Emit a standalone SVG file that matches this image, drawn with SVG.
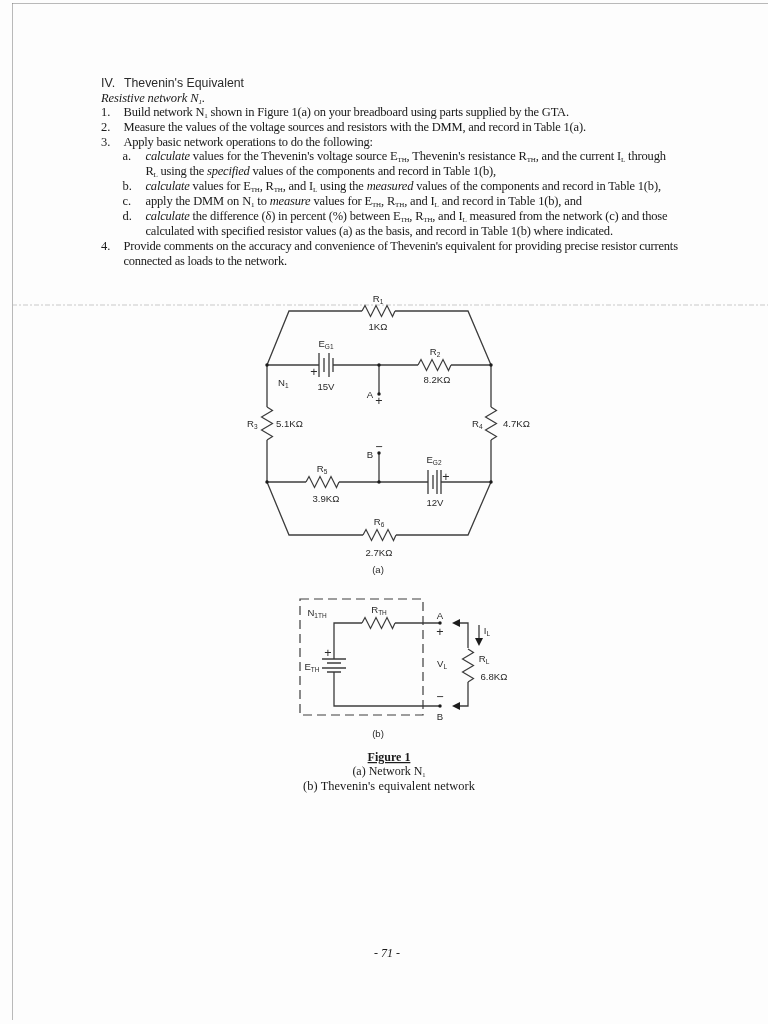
<svg xmlns="http://www.w3.org/2000/svg" width="768" height="1024" viewBox="0 0 768 1024">
<style>
.t{font-family:"Liberation Serif",serif;font-size:12.5px;fill:#1a1a1a}
.s{font-family:"Liberation Sans",sans-serif;font-size:9.6px;fill:#2a2a2a}
.h{font-family:"Liberation Sans",sans-serif;font-size:12.5px;fill:#2a2a2a}
.w{fill:none;stroke:#3c3c3c;stroke-width:1.3}
.d{fill:#1c1c1c}
.c{text-anchor:middle}
.i{font-style:italic}
.sub{font-size:7px}
.sd{font-size:6.5px}
.edge{fill:none;stroke:#777;stroke-width:1}
</style>
<defs>
<path id="rh" d="M0 0l3-5.5 5.5 11 5.5-11 5.5 11 5.5-11 5.5 11 2.5-5.5" fill="none" stroke="#3c3c3c" stroke-width="1.2"/>
<path id="rv" d="M0 0l5.5 3.5-11 6.5 11 6.5-11 6.5 11 6.5-5.5 3.5" fill="none" stroke="#3c3c3c" stroke-width="1.2"/>
<filter id="scan" x="0" y="0" width="1" height="1"><feGaussianBlur stdDeviation="0.3"/></filter>
</defs>
<rect width="768" height="1024" fill="#fdfdfd"/>
<g filter="url(#scan)">
<g id="page-edges">
<path class="edge" d="M12 1020V3H768"/>
<path d="M12 305H768" fill="none" stroke="#bbb" stroke-width="0.8" stroke-dasharray="5 2 2 2"/>
</g>
<g id="page-text">
<text class="h" x="101" y="87">IV.</text><text class="h" x="124" y="87" textLength="120" lengthAdjust="spacingAndGlyphs">Thevenin's Equivalent</text>
<text class="t i" x="101" y="101.5" textLength="104">Resistive network N<tspan class="sub" dy="2">1</tspan><tspan dy="-2">.</tspan></text>
<text class="t" x="101" y="116">1.</text><text class="t" x="123.5" y="116" textLength="445.5">Build network N<tspan class="sub" dy="2">1</tspan><tspan dy="-2"> shown in Figure 1(a) on your breadboard using parts supplied by the GTA.</tspan></text>
<text class="t" x="101" y="131">2.</text><text class="t" x="123.5" y="131" textLength="462.5">Measure the values of the voltage sources and resistors with the DMM, and record in Table 1(a).</text>
<text class="t" x="101" y="146">3.</text><text class="t" x="123.5" y="146" textLength="249.5">Apply basic network operations to do the following:</text>
<text class="t" x="122.5" y="160">a.</text><text class="t" x="145.5" y="160" textLength="520.5"><tspan class="i">calculate</tspan> values for the Thevenin's voltage source E<tspan class="sub" dy="2">TH</tspan><tspan dy="-2">, Thevenin's resistance R</tspan><tspan class="sub" dy="2">TH</tspan><tspan dy="-2">, and the current I</tspan><tspan class="sub" dy="2">L</tspan><tspan dy="-2"> through</tspan></text>
<text class="t" x="145.5" y="175" textLength="350.5">R<tspan class="sub" dy="2">L</tspan><tspan dy="-2"> using the </tspan><tspan class="i">specified</tspan> values of the components and record in Table 1(b),</text>
<text class="t" x="122.5" y="190">b.</text><text class="t" x="145.5" y="190" textLength="515.5"><tspan class="i">calculate</tspan> values for E<tspan class="sub" dy="2">TH</tspan><tspan dy="-2">, R</tspan><tspan class="sub" dy="2">TH</tspan><tspan dy="-2">, and I</tspan><tspan class="sub" dy="2">L</tspan><tspan dy="-2"> using the </tspan><tspan class="i">measured</tspan> values of the components and record in Table 1(b),</text>
<text class="t" x="122.5" y="205">c.</text><text class="t" x="145.5" y="205" textLength="436.5">apply the DMM on N<tspan class="sub" dy="2">1</tspan><tspan dy="-2"> to </tspan><tspan class="i">measure</tspan> values for E<tspan class="sub" dy="2">TH</tspan><tspan dy="-2">, R</tspan><tspan class="sub" dy="2">TH</tspan><tspan dy="-2">, and I</tspan><tspan class="sub" dy="2">L</tspan><tspan dy="-2"> and record in Table 1(b), and</tspan></text>
<text class="t" x="122.5" y="219.5">d.</text><text class="t" x="145.5" y="219.5" textLength="522"><tspan class="i">calculate</tspan> the difference (δ) in percent (%) between E<tspan class="sub" dy="2">TH</tspan><tspan dy="-2">, R</tspan><tspan class="sub" dy="2">TH</tspan><tspan dy="-2">, and I</tspan><tspan class="sub" dy="2">L</tspan><tspan dy="-2"> measured from the network (c) and those</tspan></text>
<text class="t" x="145.5" y="234.5" textLength="467.5">calculated with specified resistor values (a) as the basis, and record in Table 1(b) where indicated.</text>
<text class="t" x="101" y="249.5">4.</text><text class="t" x="123.5" y="249.5" textLength="554.5">Provide comments on the accuracy and convenience of Thevenin's equivalent for providing precise resistor currents</text>
<text class="t" x="123.5" y="264.5" textLength="163.5">connected as loads to the network.</text>
</g>
<g id="connectors-a">
<path class="w" d="M267 365L289 311H362M395 311H468L491 365"/>
<path class="w" d="M267 365H319M333 365H418M451 365H491"/>
<path class="w" d="M379 365V394"/>
<path class="w" d="M267 365V407M267 440V482H306M339 482H428M441 482H491"/>
<path class="w" d="M491 365V407M491 440V482"/>
<path class="w" d="M267 482L289 535H363M396 535H468L491 482"/>
<path class="w" d="M379 453V482"/>
</g>
<g id="R1"><use href="#rh" x="362" y="311"/><text class="s c" x="378" y="302">R<tspan class="sd" dy="2">1</tspan></text><text class="s c" x="378" y="330">1KΩ</text></g>
<g id="R2"><use href="#rh" x="418" y="365"/><text class="s c" x="435" y="355">R<tspan class="sd" dy="2">2</tspan></text><text class="s c" x="437" y="383">8.2KΩ</text></g>
<g id="R3"><use href="#rv" x="267" y="407"/><text class="s" x="247" y="427">R<tspan class="sd" dy="2">3</tspan></text><text class="s" x="276" y="427">5.1KΩ</text></g>
<g id="R4"><use href="#rv" x="491" y="407"/><text class="s" x="472" y="427">R<tspan class="sd" dy="2">4</tspan></text><text class="s" x="503" y="427">4.7KΩ</text></g>
<g id="R5"><use href="#rh" x="306" y="482"/><text class="s c" x="322" y="472">R<tspan class="sd" dy="2">5</tspan></text><text class="s c" x="326" y="502">3.9KΩ</text></g>
<g id="R6"><use href="#rh" x="363" y="535"/><text class="s c" x="379" y="525">R<tspan class="sd" dy="2">6</tspan></text><text class="s c" x="379" y="556">2.7KΩ</text></g>
<g id="EG1">
<path class="w" d="M319 353V377M333 358V372M324 358V372M329 353V377"/>
<text class="s c" x="326" y="347">E<tspan class="sd" dy="2">G1</tspan></text><text class="h c" x="314" y="376">+</text><text class="s c" x="326" y="390">15V</text></g>
<g id="EG2">
<path class="w" d="M428 470V494M441 470V494M433 475V489M437 470V494"/>
<text class="s c" x="434" y="463">E<tspan class="sd" dy="2">G2</tspan></text><text class="h c" x="446" y="481">+</text><text class="s c" x="435" y="506">12V</text></g>
<g id="nodes-a" class="d">
<circle cx="267" cy="365" r="1.7"/><circle cx="491" cy="365" r="1.7"/><circle cx="379" cy="365" r="1.7"/>
<circle cx="267" cy="482" r="1.7"/><circle cx="491" cy="482" r="1.7"/><circle cx="379" cy="482" r="1.7"/>
<circle cx="379" cy="394" r="1.7"/><circle cx="379" cy="453" r="1.7"/>
</g>
<g id="labels-a">
<text class="s" x="278" y="386">N<tspan class="sd" dy="2">1</tspan></text>
<text class="s c" x="370" y="398">A</text><text class="h c" x="379" y="405">+</text>
<text class="s c" x="370" y="458">B</text><text class="h c" x="379" y="451">−</text>
<text class="s c" x="378" y="573">(a)</text>
</g>
<g id="boundary"><path d="M300 599H423V715H300Z" fill="none" stroke="#3c3c3c" stroke-width="1.2" stroke-dasharray="9 5"/></g>
<g id="connectors-b">
<path class="w" d="M334 659V623H362M395 623H440M334 672V706H440"/>
<path class="w" d="M460 623H468V648M468 682V706H460"/>
<path class="w" d="M479 625V640"/>
</g>
<g id="RTH"><use href="#rh" x="362" y="623"/><text class="s c" x="379" y="613">R<tspan class="sd" dy="2">TH</tspan></text></g>
<g id="ETH"><path class="w" d="M322 659H346M327 663H341M322 668H346M327 672H341"/><text class="h c" x="328" y="657">+</text><text class="s c" x="312" y="670">E<tspan class="sd" dy="2">TH</tspan></text></g>
<g id="RL"><use href="#rv" x="468" y="649"/><text class="s c" x="484" y="662">R<tspan class="sd" dy="2">L</tspan></text><text class="s c" x="494" y="680">6.8KΩ</text></g>
<g id="terminals" class="d">
<circle cx="440" cy="623" r="1.7"/><circle cx="440" cy="706" r="1.7"/>
<path d="M452 623l8-4v8zM452 706l8-4v8zM479 646l-4-8h8z"/>
</g>
<g id="labels-b">
<text class="s c" x="317" y="616">N<tspan class="sd" dy="2">1TH</tspan></text>
<text class="s c" x="440" y="619">A</text><text class="h c" x="440" y="636">+</text>
<text class="s c" x="442" y="667">V<tspan class="sd" dy="2">L</tspan></text>
<text class="h c" x="440" y="701">−</text><text class="s c" x="440" y="720">B</text>
<text class="s c" x="487" y="634">I<tspan class="sd" dy="2">L</tspan></text>
<text class="s c" x="378" y="737">(b)</text>
</g>
<g id="caption">
<text class="t c" x="389" y="761" text-decoration="underline" font-weight="bold" style="font-size:12px">Figure 1</text>
<text class="t c" x="389" y="775" style="font-size:12px">(a) Network N<tspan class="sd" dy="2">1</tspan></text>
<text class="t c" x="389" y="790" style="font-size:12.4px" textLength="172">(b) Thevenin's equivalent network</text>
</g>
<text class="t i c" x="387" y="957" style="font-size:12px">- 71 -</text>
</g>
</svg>
